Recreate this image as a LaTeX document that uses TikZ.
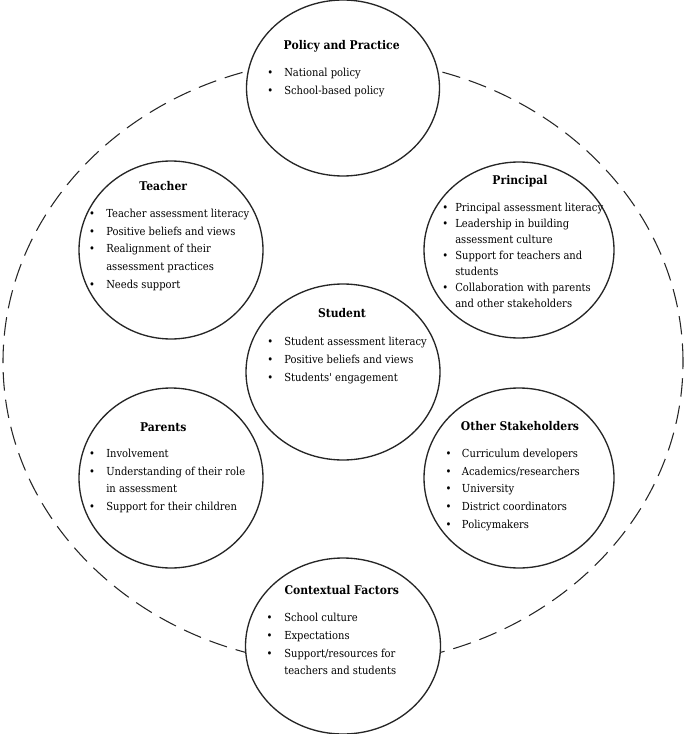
\documentclass[tikz,border=0pt]{standalone}
\usepackage{fontspec}
\setmainfont{DejaVu Serif}[FakeStretch=0.9]
\newfontfamily\bodyfont{DejaVu Serif}[FakeStretch=0.9]
\usetikzlibrary{shapes.geometric}
\newlength\bw
\newcommand\itm[1]{\noindent\llap{\makebox[\bw][l]{\textbullet}}#1\par}
\newcommand\cnt[1]{\noindent #1\par}
\tikzset{
  ring/.style={ellipse, draw=black!85, line width=0.8pt, dash pattern=on 13.9pt off 6.8pt, inner sep=0pt, outer sep=0pt},
  bubble/.style={ellipse, draw=black!85, fill=white, line width=1pt, inner sep=0pt, outer sep=0pt},
  ttl/.style={anchor=base, inner sep=0pt, font=\bodyfont\fontsize{9pt}{12pt}\selectfont\bfseries},
  lst/.style={anchor=base west, inner sep=0pt, font=\bodyfont\fontsize{8.3pt}{13.3pt}\selectfont},
  lstp/.style={anchor=base west, inner sep=0pt, font=\bodyfont\fontsize{8.3pt}{12pt}\selectfont}
}
\begin{document}
\begin{tikzpicture}[x=0.75pt,y=-0.75pt]
\useasboundingbox (0,0) rectangle (685,734);
\node[ring, minimum width=510pt, minimum height=454.5pt] (ring) at (343,362) {};
% circles
\node[bubble, minimum width=144.75pt, minimum height=132pt] (pol) at (343,88) {};
\node[bubble, minimum width=138pt, minimum height=133.5pt] (tea) at (171,250) {};
\node[bubble, minimum width=142.5pt, minimum height=132pt] (pri) at (519,250) {};
\node[bubble, minimum width=145.5pt, minimum height=132pt] (stu) at (343,372) {};
\node[bubble, minimum width=138pt, minimum height=135pt] (par) at (171,478) {};
\node[bubble, minimum width=142.5pt, minimum height=135pt] (oth) at (519,478) {};
\node[bubble, minimum width=146.25pt, minimum height=132pt] (con) at (343,646) {};
% Policy
\node[ttl] (polT) at (341.7,50) {Policy and Practice};
\node[lst] (polL) at (284,76.7) {\parbox[t]{150pt}{\setlength\bw{12.7pt}%
\itm{National policy}\itm{School-based policy}}};
% Teacher
\node[ttl] (teaT) at (163.3,190.7) {Teacher};
\node[lst] (teaL) at (106,217.3) {\parbox[t]{150pt}{\setlength\bw{12.9pt}%
\itm{Teacher assessment literacy}\itm{Positive beliefs and views}\itm{Realignment of their}\cnt{assessment practices}\itm{Needs support}}};
% Principal
\node[ttl] (priT) at (520,185) {Principal};
\node[lstp] (priL) at (455,211.7) {\parbox[t]{150pt}{\setlength\bw{9.7pt}%
\itm{Principal assessment literacy}\itm{Leadership in building}\cnt{assessment culture}\itm{Support for teachers and}\cnt{students}\itm{Collaboration with parents}\cnt{and other stakeholders}}};
% Student
\node[ttl] (stuT) at (342,317.3) {Student};
\node[lst] (stuL) at (284,345.7) {\parbox[t]{150pt}{\setlength\bw{12.7pt}%
\itm{Student assessment literacy}\itm{Positive beliefs and views}\itm{Students' engagement}}};
% Parents
\node[ttl] (parT) at (163.3,431) {Parents};
\node[lst] (parL) at (106,457.3) {\parbox[t]{150pt}{\setlength\bw{12.9pt}%
\itm{Involvement}\itm{Understanding of their role}\cnt{in assessment}\itm{Support for their children}}};
% Other
\node[ttl] (othT) at (520,430.7) {Other Stakeholders};
\node[lst] (othL) at (461.7,457.3) {\parbox[t]{150pt}{\setlength\bw{12.2pt}%
\itm{Curriculum developers}\itm{Academics/researchers}\itm{University}\itm{District coordinators}\itm{Policymakers}}};
% Contextual
\node[ttl] (conT) at (341.7,594) {Contextual Factors};
\node[lst] (conL) at (284,621.7) {\parbox[t]{150pt}{\setlength\bw{13.2pt}%
\itm{School culture}\itm{Expectations}\itm{Support/resources for}\cnt{teachers and students}}};
\end{tikzpicture}
\end{document}
